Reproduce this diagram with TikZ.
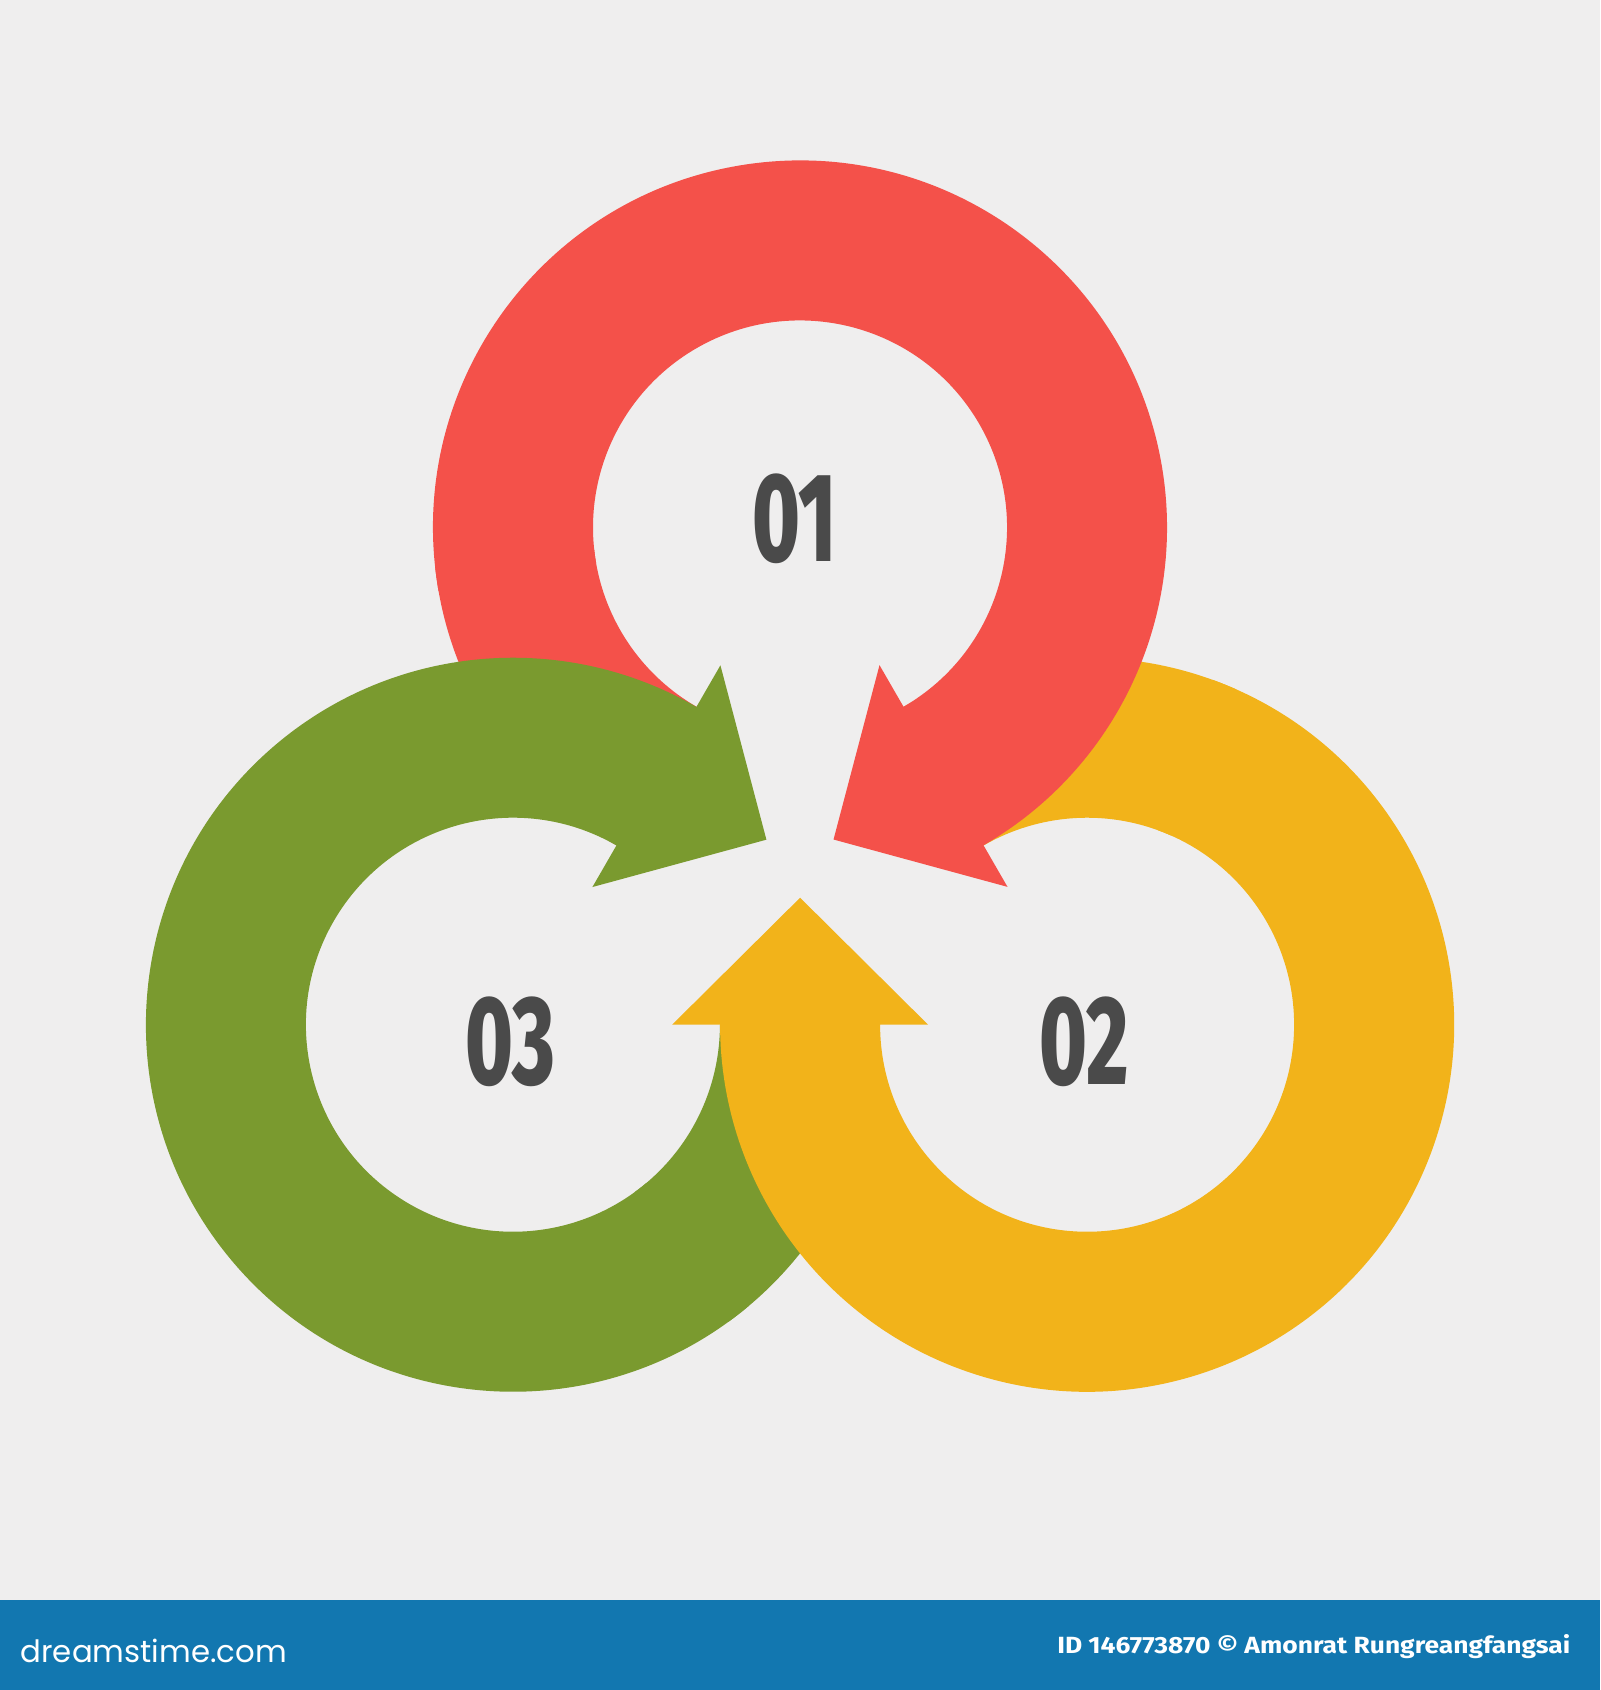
\documentclass[tikz,border=0pt]{standalone}
\usepackage{fontspec}
\setmainfont{Fira Sans}
\newfontfamily\numfont{Fira Sans}[UprightFont={* ExtraBold}]
\newfontfamily\logofont{Poppins}
\usetikzlibrary{calc}

\definecolor{paper}{HTML}{EFEEEE}
\definecolor{bar}{HTML}{1277B0}
\definecolor{ringred}{HTML}{F4514A}
\definecolor{ringyellow}{HTML}{F2B31A}
\definecolor{ringgreen}{HTML}{7A9A2F}
\definecolor{numgray}{HTML}{4A4A4A}

\begin{document}
\begin{tikzpicture}[
      number/.style={text=numgray,inner sep=0pt,
         font=\fontsize{36}{36}\numfont},
      bartext/.style={text=white,inner sep=0pt}
   ]
            \useasboundingbox (0,0) rectangle (16,16.9);
            \fill [paper] (0,0) rectangle (16,16.9);
            \fill [bar] (0,0) rectangle (16,0.9);

            \coordinate (mid) at (8,8.31);
            \path (mid) ++(90:3.315) coordinate (redc);
            \path (mid) ++(-30:3.315) coordinate (yellowc);
            \path (mid) ++(210:3.315) coordinate (greenc);

            % tails, lying under the next ring
            \fill [ringred]
               (redc) ++(240:3.67) arc[start angle=240,end angle=186,radius=3.67]
               -- ++(186:-1.6) arc[start angle=186,end angle=240,radius=2.07]
               -- cycle;
            \fill [ringyellow]
               (yellowc) ++(120:3.67) arc[start angle=120,end angle=66,radius=3.67]
               -- ++(66:-1.6) arc[start angle=66,end angle=120,radius=2.07]
               -- cycle;
            \fill [ringgreen]
               (greenc) ++(0:3.67) arc[start angle=0,end angle=-54,radius=3.67]
               -- ++(-54:-1.6) arc[start angle=-54,end angle=0,radius=2.07]
               -- cycle;

            % bodies with their heads
            \fill [ringred]
               (redc) ++(190:3.67) arc[start angle=190,end angle=-60,radius=3.67]
               -- ++(-60:0.48)
               -- ($(redc)+(-60:2.87)+(-150:1.27)$)
               -- ($(redc)+(-60:1.59)$)
               -- ($(redc)+(-60:2.07)$)
               arc[start angle=-60,end angle=190,radius=2.07]
               -- cycle;
            \fill [ringyellow]
               (yellowc) ++(70:3.67) arc[start angle=70,end angle=-180,radius=3.67]
               -- ++(-180:0.48)
               -- ($(yellowc)+(-180:2.87)+(-270:1.27)$)
               -- ($(yellowc)+(-180:1.59)$)
               -- ($(yellowc)+(-180:2.07)$)
               arc[start angle=-180,end angle=70,radius=2.07]
               -- cycle;
            \fill [ringgreen]
               (greenc) ++(-50:3.67) arc[start angle=-50,end angle=-300,radius=3.67]
               -- ++(-300:0.48)
               -- ($(greenc)+(-300:2.87)+(-390:1.27)$)
               -- ($(greenc)+(-300:1.59)$)
               -- ($(greenc)+(-300:2.07)$)
               arc[start angle=-300,end angle=-50,radius=2.07]
               -- cycle;

            \node [number] (num01) at (7.945,11.715) {\scalebox{0.64}[1]{01}};
            \node [number] (num02) at (10.84,6.48) {\scalebox{0.64}[1]{02}};
            \node [number] (num03) at (5.10,6.48) {\scalebox{0.64}[1]{03}};

            \node [bartext,anchor=base west] (logo) at (0.20,0.27)
               {\resizebox{2.66cm}{!}{\logofont dreamstime.com}};
            \node [bartext,anchor=base east] (credit) at (15.71,0.36)
               {\resizebox{5.13cm}{0.19cm}{\bfseries ID 146773870 © Amonrat Rungreangfangsai}};
         \end{tikzpicture}
\end{document}
